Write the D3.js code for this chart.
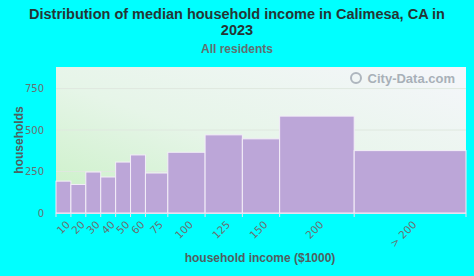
<!DOCTYPE html>
<html>
<head>
<meta charset="utf-8">
<script src="https://cdn.jsdelivr.net/npm/d3@7"></script>
<style>
	body { margin: 0; background: #00ffff; }
	svg { display: block; font-family: "Liberation Sans", Arial, sans-serif; }
</style>
</head>
<body>
<svg id="chart" width="474" height="276"></svg>
<script>
'use strict';
(function() {
	//Bin labels, bin edges ($1000) and household counts
	var labels = ['10','20','30','40','50','60','75','100','125','150','200','> 200'];
	var edges = [0,10,20,30,40,50,60,75,100,125,150,200,275];
	var households = [192,172,247,217,307,350,241,366,471,447,584,376];
	var yTicks = [0,250,500,750];

	var svg = d3.select('#chart');
	var left = 56, right = 466, top = 67, bottom = 213;

	var x = d3.scaleLinear().domain([0,275]).range([left,right]);
	var y = d3.scaleLinear().domain([0,880]).range([bottom,top]);

	//background gradient
	var defs = svg.append('defs');
	var grad = defs.append('linearGradient')
		.attr('id','bg').attr('x1','0').attr('y1','1').attr('x2','1').attr('y2','0');
	grad.append('stop').attr('offset','0').attr('stop-color','#c8f0c4');
	grad.append('stop').attr('offset','0.45').attr('stop-color','#e6f5e8');
	grad.append('stop').attr('offset','1').attr('stop-color','#f5f6fb');
	svg.append('rect')
		.attr('x',left).attr('y',top)
		.attr('width',right-left).attr('height',bottom-top)
		.attr('fill','url(#bg)');

	//grid lines
	svg.append('g').selectAll('line')
		.data(yTicks.slice(1))
		.enter().append('line')
			.attr('x1',left).attr('x2',right)
			.attr('y1',function(d){return y(d);})
			.attr('y2',function(d){return y(d);})
			.attr('stroke','#dfe8df').attr('stroke-width',1);

	//bars
	svg.append('g').selectAll('rect')
		.data(households)
		.enter().append('rect')
			.attr('x',function(d,i){return x(edges[i]);})
			.attr('y',function(d){return y(d);})
			.attr('width',function(d,i){return x(edges[i+1])-x(edges[i]);})
			.attr('height',function(d){return bottom-y(d);})
			.attr('fill','#bca6d8')
			.attr('stroke','#f3eef8').attr('stroke-width',1);

	//x axis: edge ticks
	svg.append('line')
		.attr('x1',left).attr('x2',right)
		.attr('y1',bottom+0.5).attr('y2',bottom+0.5)
		.attr('stroke','#e8e0f0');
	svg.append('g').selectAll('line')
		.data(edges)
		.enter().append('line')
			.attr('x1',function(d){return x(d);})
			.attr('x2',function(d){return x(d);})
			.attr('y1',bottom).attr('y2',bottom+4)
			.attr('stroke','#e8e0f0');

	//x tick labels at bin centres
	svg.append('g').selectAll('text')
		.data(labels)
		.enter().append('text')
			.attr('transform',function(d,i){
				var cx = x((edges[i]+edges[i+1])/2);
				return 'translate('+(cx+2)+','+(bottom+7)+') rotate(-45)';
			})
			.attr('text-anchor','end')
			.attr('dy','0.7em')
			.attr('font-family','"DejaVu Sans", sans-serif')
			.attr('font-size',10.5)
			.attr('fill','#6a7070')
			.text(function(d){return d;});

	//y axis labels
	svg.append('g').selectAll('text')
		.data(yTicks)
		.enter().append('text')
			.attr('x',44).attr('y',function(d){return y(d);})
			.attr('dy','0.35em')
			.attr('text-anchor','end')
			.attr('font-family','"DejaVu Sans", sans-serif')
			.attr('font-size',10)
			.attr('fill','#6a7070')
			.text(function(d){return d;});

	//watermark
	svg.append('text')
		.attr('x',455).attr('y',83)
		.attr('text-anchor','end')
		.attr('font-size',13).attr('font-weight','bold')
		.attr('fill','#a8b0b8')
		.text('City-Data.com');
	svg.append('circle')
		.attr('cx',356).attr('cy',78).attr('r',5)
		.attr('fill','none').attr('stroke','#aeb6be').attr('stroke-width',2);

	//titles
	svg.append('text')
		.attr('x',237).attr('y',19)
		.attr('text-anchor','middle')
		.attr('font-size',14.5).attr('font-weight','bold')
		.attr('fill','#253535')
		.text('Distribution of median household income in Calimesa, CA in');
	svg.append('text')
		.attr('x',237).attr('y',35)
		.attr('text-anchor','middle')
		.attr('font-size',14.5).attr('font-weight','bold')
		.attr('fill','#253535')
		.text('2023');
	svg.append('text')
		.attr('x',237).attr('y',53)
		.attr('text-anchor','middle')
		.attr('font-size',12).attr('font-weight','bold')
		.attr('fill','#5f7070')
		.text('All residents');
	svg.append('text')
		.attr('x',260).attr('y',262)
		.attr('text-anchor','middle')
		.attr('font-size',12).attr('font-weight','bold')
		.attr('fill','#4f6060')
		.text('household income ($1000)');
	svg.append('text')
		.attr('transform','translate(23,'+((top+bottom)/2)+') rotate(-90)')
		.attr('text-anchor','middle')
		.attr('font-size',12).attr('font-weight','bold')
		.attr('fill','#4f6060')
		.text('households');
})();
</script>
</body>
</html>
